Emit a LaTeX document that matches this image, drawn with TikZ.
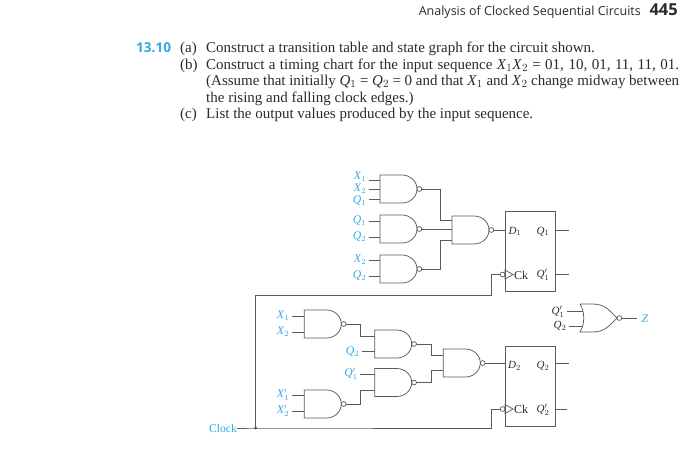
\documentclass[tikz,border=0pt]{standalone}
\usepackage{fontspec}
\setmainfont{Liberation Serif}
\newfontfamily\headfont{Open Sans}
\definecolor{wirecol}{HTML}{5A5A5A}
\definecolor{inkblue}{HTML}{35A8E0}
\definecolor{inkdark}{HTML}{2A2A2A}
\newcommand{\sg}[2]{\textit{#1}$_{#2}$}
\newcommand{\sgp}[2]{\textit{#1}$'_{#2}$}
\tikzset{
	wire/.style = {draw=wirecol, line width=0.75pt},
	gate/.style = {inner sep=0pt, outer sep=0pt, minimum height=28pt, minimum width=37pt},
	invar/.style = {text=inkblue, font=\fontsize{11.7}{12}\selectfont, inner sep=0pt},
	ffvar/.style = {text=inkdark, font=\fontsize{11}{12}\selectfont, inner sep=0pt},
	ff/.style = {draw=wirecol, line width=0.9pt, minimum width=50pt, minimum height=80pt, inner sep=0pt, outer sep=0pt},
	body/.style = {anchor=base west, inner sep=0pt, text=inkdark, font=\fontsize{15}{16}\selectfont},
	bubble/.style = {circle, draw=wirecol, fill=white, line width=0.7pt, minimum size=4.8pt, inner sep=0pt, outer sep=0pt},
	joint/.style = {circle, fill=inkdark, minimum size=3pt, inner sep=0pt}
}
% gate outlines, drawn on a named node
\newcommand{\nandg}[2]{
	\node [gate] (#1) at (#2) {};
	\draw [wire] (#1.north west) -- ++(22,0) arc [start angle=90, end angle=-90, x radius=15pt, y radius=14pt] -- (#1.south west) -- cycle;
	\node [bubble, anchor=west] (#1o) at (#1.east) {};
	\coordinate (#1a) at ([yshift=7.5pt]#1.west);
	\coordinate (#1b) at ([yshift=-7.5pt]#1.west);
}
\newcommand{\norg}[2]{
	\node [gate] (#1) at (#2) {};
	\draw [wire] (#1.north west) -- ++(12,0) .. controls +(13,0) and +(-8,-8) .. (#1.east) .. controls +(-8,8) and +(13,0) .. ([xshift=12pt]#1.south west) -- (#1.south west) .. controls +(5,-8) and +(5,8) .. (#1.north west);
	\node [bubble, anchor=west] (#1o) at (#1.east) {};
}
\begin{document}
\begin{tikzpicture}[x=1pt,y=-1pt]
	\useasboundingbox (0,0) rectangle (685,461);
	% page text
	\node [anchor=base east, inner sep=0pt, text=inkdark, font=\headfont\fontsize{12.5}{14}\selectfont] (head) at (641,15) {Analysis of Clocked Sequential Circuits};
	\node [anchor=base east, inner sep=0pt, text=inkdark, font=\headfont\bfseries\fontsize{16.5}{17}\selectfont] (page) at (678,15) {445};
	\node [anchor=base west, inner sep=0pt, text=inkblue, font=\headfont\bfseries\fontsize{13.6}{14}\selectfont] (num) at (136,52) {13.10};
	\node [body] (ta) at (180,52) {(a)};
	\node [body] (tb) at (180,69) {(b)};
	\node [body] (tc) at (180,118) {(c)};
	\node [body] (la) at (206,52) {Construct a transition table and state graph for the circuit shown.};
	\node [body] (lb) at (206,69) {\makebox[473pt][s]{Construct a timing chart for the input sequence \sg{X}{1}\sg{X}{2} = 01, 10, 01, 11, 11, 01.}};
	\node [body] (lc) at (206,85) {\makebox[473pt][s]{(Assume that initially \sg{Q}{1} = \sg{Q}{2} = 0 and that \sg{X}{1} and \sg{X}{2} change midway between}};
	\node [body] (ld) at (206,102) {the rising and falling clock edges.)};
	\node [body] (le) at (206,118) {List the output values produced by the input sequence.};
	% upper gates
	\nandg{gA}{398.5,189}
	\nandg{gB}{398.5,229}
	\nandg{gC}{398.5,269}
	\nandg{gD}{470.5,230}
	\node [ff] (ffA) at (530.5,251.5) {};
	% lower gates
	\nandg{gE}{322.8,324}
	\nandg{gF}{393.2,344}
	\nandg{gG}{393.2,382.5}
	\nandg{gI}{322.8,404}
	\nandg{gH}{461.8,363}
	\node [ff] (ffB) at (530,386) {};
	\norg{gZ}{598.5,318}
	% input labels
	\node [invar] (a1) at (360,176.5) {\sg{X}{1}};
	\node [invar] (a2) at (360,189) {\sg{X}{2}};
	\node [invar] (a3) at (359.5,201) {\sg{Q}{1}};
	\node [invar] (b1) at (359.5,221) {\sg{Q}{1}};
	\node [invar] (b2) at (359.5,237) {\sg{Q}{2}};
	\node [invar] (c1) at (360,260) {\sg{X}{2}};
	\node [invar] (c2) at (359.5,276) {\sg{Q}{2}};
	\node [invar] (e1) at (283,316) {\sg{X}{1}};
	\node [invar] (e2) at (283,332) {\sg{X}{2}};
	\node [invar] (f2) at (352.5,351.5) {\sg{Q}{2}};
	\node [invar] (g1) at (351,374) {\sgp{Q}{1}};
	\node [invar] (i1) at (283,395) {\sgp{X}{1}};
	\node [invar] (i2) at (283,411) {\sgp{X}{2}};
	\node [invar] (clk) at (223,428) {Clock};
	\node [ffvar] (z1) at (558,311.5) {\sgp{Q}{1}};
	\node [ffvar] (z2) at (560,326) {\sg{Q}{2}};
	\node [invar] (zout) at (645,319) {\textit{Z}};
	% flip-flop labels
	\node [ffvar] (dA) at (515,231.5) {\sg{D}{1}};
	\node [ffvar] (qA) at (543,231.5) {\sg{Q}{1}};
	\node [ffvar, font=\fontsize{12}{12}\selectfont] (ckA) at (521,275) {Ck};
	\node [ffvar] (nqA) at (543,275) {\sgp{Q}{1}};
	\node [ffvar] (dB) at (514.5,366) {\sg{D}{2}};
	\node [ffvar] (qB) at (543,366) {\sg{Q}{2}};
	\node [ffvar, font=\fontsize{12}{12}\selectfont] (ckB) at (521,409.5) {Ck};
	\node [ffvar] (nqB) at (543,409.5) {\sgp{Q}{2}};
	% clock inputs
	\node [bubble] (bubA) at (502.6,274.5) {};
	\node [bubble] (bubB) at (502.6,409) {};
	\draw [wire] (bubA.east) -- ++(0,-4.5) -- ++(8,4.5) -- ++(-8,4.5) -- cycle;
	\draw [wire] (bubB.east) -- ++(0,-4.5) -- ++(8,4.5) -- ++(-8,4.5) -- cycle;
	% helpers for the bends
	\coordinate (bendU) at (440,0);
	\coordinate (bendL) at (360.5,0);
	\coordinate (bendR) at (431,0);
	\coordinate (bendC) at (491,0);
	\coordinate (endQ) at (569,0);
	\coordinate (endP) at (567,0);
	\coordinate (endZ) at (637,0);
	\coordinate (clkV) at (255.7,295);
	\coordinate (clkJ) at (255.7,428);
	\coordinate (gAt) at ([yshift=9pt]gA.west);
	\coordinate (gAm) at ([yshift=-10pt]gA.west);
	\coordinate (gDt) at ([yshift=10pt]gD.west);
	\coordinate (gDm) at ([yshift=-10pt]gD.west);
	\node [joint] (dot) at (clkJ) {};
	% wires, first flip-flop
	\draw [wire] (gAt -| a1.east) ++(3,0) -- (gAt);
	\draw [wire] (a2.east) ++(3,0) -- (a2 -| gA.west);
	\draw [wire] (gAm -| a3.east) ++(3,0) -- (gAm);
	\draw [wire] (b1.east) ++(3,0) -- (b1 -| gB.west);
	\draw [wire] (b2.east) ++(3,0) -- (b2 -| gB.west);
	\draw [wire] (c1.east) ++(3,0) -- (c1 -| gC.west);
	\draw [wire] (c2.east) ++(3,0) -- (c2 -| gC.west);
	\draw [wire] (gAo.east) -- (gAo.east -| bendU) |- (gDt);
	\draw [wire] (gBo.east) -- (gBo.east -| gD.west);
	\draw [wire] (gCo.east) -- (gCo.east -| bendU) |- (gDm);
	\draw [wire] (gDo.east) -- (gDo.east -| ffA.west);
	\draw [wire] (gDo.east -| ffA.east) -- (gDo.east -| endQ);
	\draw [wire] (bubA.east -| ffA.east) -- (bubA.east -| endQ);
	% wires, second flip-flop
	\draw [wire] (e1.east) ++(2.5,0) -- (e1 -| gE.west);
	\draw [wire] (e2.east) ++(2.5,0) -- (e2 -| gE.west);
	\draw [wire] (f2.east) ++(2.5,0) -- (f2 -| gF.west);
	\draw [wire] (g1.east) ++(2.5,0) -- (g1 -| gG.west);
	\draw [wire] (i1.east) ++(2.5,0) -- (i1 -| gI.west);
	\draw [wire] (i2.east) ++(2.5,0) -- (i2 -| gI.west);
	\draw [wire] (gEo.east) -- (gEo.east -| bendL) |- (gFa);
	\draw [wire] (gIo.east) -- (gIo.east -| bendL) |- (gGb);
	\draw [wire] (gFo.east) -- (gFo.east -| bendR) |- (gHa);
	\draw [wire] (gGo.east) -- (gGo.east -| bendR) |- (gHb);
	\draw [wire] (gHo.east) -- (gHo.east -| ffB.west);
	\draw [wire] (gHo.east -| ffB.east) -- (gHo.east -| endQ);
	\draw [wire] (bubB.east -| ffB.east) -- (bubB.east -| endP);
	% clock
	\draw [wire] (clk.east) -- (dot.center) -- (dot.center -| bendC) -- (bubB.west -| bendC) -- (bubB.west);
	\draw [wire] (dot.center) -- (clkV) -- (clkV -| bendC) -- (bubA.west -| bendC) -- (bubA.west);
	% output gate
	\draw [wire] (z1.east) ++(2.5,0) -- ([xshift=3pt]z1 -| gZ.west);
	\draw [wire] (z2.east) ++(2.5,0) -- ([xshift=3pt]z2 -| gZ.west);
	\draw [wire] (gZo.east) -- (gZo.east -| endZ);
\end{tikzpicture}
\end{document}
